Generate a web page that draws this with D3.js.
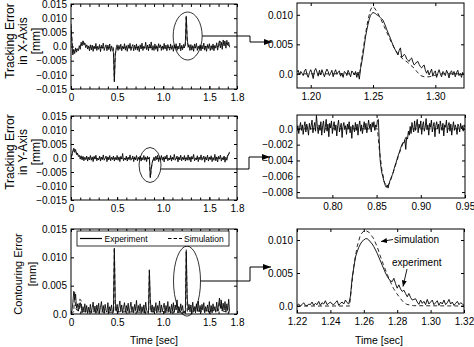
<!DOCTYPE html>
<html><head><meta charset="utf-8">
<script src="https://cdn.jsdelivr.net/npm/d3@7"></script>
<style>
body{margin:0;background:#fff;}
svg text{font-family:"Liberation Sans",Arial,Helvetica,sans-serif;fill:#000;}
</style></head><body>
<svg id="c" width="474" height="347"></svg>
<script>
// ===== DATA (errors in micrometres; converted to mm for the axes) =====
const UM = 0.001;
// full-run overview, sampled every 0.01 s starting at 0 s
const overviewDt = 0.01;
const trackXExp = [7,1.5,-3,-1,-2.5,-0.5,-2,-0.8,-1.5,0.3,
 -1,1.5,0.2,2,0.5,1.2,-0.4,0.6,-0.9,0.2,
 -1.5,0.6,-1.2,0.5,-1.7,0.2,-0.9,1.1,-1.4,0.1,
 -1,0.7,-1.8,0.4,-0.7,1.2,-1.4,-0.2,0.6,-1.5,
 0.5,-1.1,0.9,-1.7,0.2,-1.3,-2,-12.5,-3,-0.5,
 0.6,-1.4,0.4,-1,0.8,-1.5,0.1,-0.9,1,-1.3,
 0.3,-1.7,0.6,-0.7,1.1,-1.4,-0.1,0.7,-1.5,0.5,
 -1.1,0.9,-1.3,0.2,-1.8,0.6,-0.9,1.2,-1.4,0.1,
 -0.7,1.5,-1.1,0.5,-1.5,0.8,-0.6,1.6,-1.3,0.3,
 -1.4,0.9,-1,0.3,-1.7,1,-0.4,0.6,-1.4,0.2,
 -1.1,1.1,-0.9,0.5,-1.5,0.7,-0.3,-1.3,0.9,-1,
 0.3,-1.7,0.6,-0.7,1,-1.4,0.2,-0.9,1.2,-1.5,
 0.4,-1.1,0.7,-0.5,1.5,10.5,3,-0.3,0.6,-1.4,
 0.7,-1.3,0.3,-1.7,0.9,-0.6,1.1,-1.4,0.1,-1,
 0.6,-1.5,0.4,-0.9,1.2,-1.3,0.2,-1.7,0.7,-0.7,
 1,-1.4,0.3,-1.1,0.9,-1.5,0.4,-0.6,1.3,-1.3,
 0.8,2,-0.5,1.5,-1,2.3,0.2,1.8,-0.6,2.2,
 0.5,1.5,-0.3];
const trackYExp = [0.5,1,2.5,3.5,2,3,1.2,1.8,0.5,1,
 -0.4,0.8,-0.7,0.6,-1,0.3,-0.6,0.7,-1.1,0.2,
 -0.7,0.9,-0.8,0.4,-1.3,0.6,-0.4,1,-1,0,
 -0.7,0.7,-1.1,0.3,-0.6,1.1,-0.8,-0.1,0.7,-1.3,
 0.4,-0.7,0.9,-1,0.3,-0.6,0.7,-1.1,0.2,-0.7,
 0.9,-0.8,0.4,-1.3,0.6,-0.4,1.6,-1,0,-0.7,
 0.7,-1.1,0.3,-0.6,1.1,-0.8,-0.1,0.7,-1.3,0.4,
 -0.7,0.9,-1,0.3,-0.6,0.7,-1.1,0.2,-0.7,0.9,
 -0.8,0.4,-1.3,0.6,-0.4,0.3,-7,-4,-1.8,-0.6,
 0.3,-1,0.7,-0.6,1,-1.3,0.2,-0.7,0.9,-0.8,
 0.4,-1.4,0.6,-0.4,1.1,-1,0,-0.7,0.9,-1.1,
 0.3,-0.6,1.3,-0.8,-0.1,0.7,-1.4,0.4,-0.7,1,
 -1,0.3,-0.6,0.9,-1.1,0.2,-0.8,1.1,-0.8,0.4,
 -1.4,0.6,-0.4,1.3,-1,0,-0.7,0.8,-1.3,0.3,
 -0.6,1.1,-0.8,-0.1,0.7,-1.5,0.4,-0.7,1,-1.1,
 0.3,-0.6,0.8,-1.3,0.2,-0.8,1.3,-1,0.4,-1.4,
 0.6,-0.4,1,-1.1,0,-0.7,0.7,-1.5,0.3,-0.8,
 0.8,1.5,2.2];
const contourExp = [0,0.5,2,4,2.5,3.5,1,1.8,0.5,1.5,
 2,1.4,0.2,1.3,0.5,1.8,0.3,1.5,0.1,1.2,
 0.4,1.7,0.2,1.1,2.1,0.3,1.4,0.1,1.6,0.5,
 1.9,0.2,1.2,2.2,0.4,1.5,0.1,1.7,0.6,0.3,
 2,0.2,1.3,0.5,1.6,0.1,0.3,11.5,2,0.5,
 1.7,0.3,1.3,2.3,0.4,1.6,0.2,1.2,2,0.3,
 1.5,0.5,1.9,0.1,1.1,2.1,0.4,1.3,0.2,1.7,
 0.6,2.4,0.3,1.5,0.5,1.8,0.1,1.3,0.4,1.6,
 0.2,2.1,0.7,0.3,0.1,7.7,2.5,0.4,1.6,0.3,
 1.3,0.5,2,0.2,1.5,0.6,2.3,0.3,1.6,0.4,
 1.2,1.9,0.2,1.5,0.5,2.2,0.3,1.3,0.1,1.7,
 0.5,2,0.3,1.6,0.7,2.5,0.2,1.3,0.4,1.8,
 0.6,1.5,0.2,0.5,0.1,11,3,0.7,1.7,0.4,
 1.6,0.3,2.1,0.6,1.3,0.2,1.8,0.5,2.3,0.4,
 1.5,0.3,1.7,0.7,2,0.2,1.3,0.5,1.6,0.3,
 2.2,0.4,1.5,0.2,1.8,0.6,1.3,0.3,2.1,0.5,
 1.6,2.8,1,2.4,0.5,1.9,0.7,2.2,0.3,1.8,
 0.6,2.6,0.4];
const trackXSimT = [0,0.01,0.02,0.04,0.07,0.1,0.13,0.16,0.2,0.46,0.47,0.48,0.5,1.24,1.25,1.26,1.28,1.6,1.62,1.64,1.67,1.7,1.72];
const trackXSimV = [8,3,-2.5,-1.5,-0.8,0.2,1.8,0.6,-0.3,-0.4,-12,-2.5,-0.4,-0.3,11,1.5,-0.3,0,1.8,0.3,2,0.5,0.2];
const trackYSimT = [0,0.02,0.04,0.06,0.09,0.12,0.85,0.86,0.87,0.88,0.9,1.68,1.72];
const trackYSimV = [0,2.2,3.2,1.8,0.6,0,-0.2,-7,-4,-1.5,-0.2,0,1.8];
const contourSimT = [0,0.03,0.04,0.05,0.07,0.085,0.095,0.11,0.115,0.105,0.09,0.1,0.13,0.46,0.47,0.48,0.84,0.85,0.86,1.24,1.25,1.26,1.6,1.61,1.625,1.635,1.63,1.615,1.625,1.65,1.72];
const contourSimV = [0,0.4,3.8,1,0.6,1.6,2.6,2.4,1.5,0.8,1,1.8,0.4,0.3,11.8,0.4,0.3,7.8,0.4,0.3,11.4,0.5,0.6,2,2.5,1.8,1,1.2,1.7,0.5,0.3];

// zoomed views, sampled every 0.001 s
const zoomDt = 0.001;
const zoomXStart = 1.189;
const zoomXExp = [0.3,0.6,-0.2,0.4,0.1,-0.3,0.5,0.8,-0.1,-0.6,
 0.2,0.7,0.1,-0.8,0.5,0.9,0.3,-0.4,0.6,-0.2,
 0.7,0.1,-0.5,0.3,0.8,0.4,-0.3,0.1,0.6,-0.5,
 0.2,0.7,-0.1,0.3,0.5,-0.4,0.1,-0.6,0.4,0.2,
 -0.3,0.6,0.1,-0.5,0.5,0.2,-0.2,0.4,-0.6,0.3,
 -0.9,0.9,2,3.3,4.8,6.3,7.4,8.4,9.3,9.9,
 10.2,10.4,10.3,10.2,10,9.9,9.7,9.5,9.3,9.1,
 8.6,8.1,7.5,7,6.5,6,5.4,4.9,4.4,4,
 3.6,3.2,4,4.4,2.8,3,3.3,3.1,2.5,2.3,
 2.1,2.5,2.7,2,1.5,1.7,2,2.1,1.6,1.2,
 1,1.3,1.5,0.6,0.1,
 0.6,-0.2,0.3,0.8,-0.4,0.2,0.5,-0.6,0.1,0.7,
 0,-0.5,0.4,0.2,-0.3,0.6,0.1,-0.7,0.3,0.5,
 -0.2,0.4,-0.5,0.2,0.6,-0.3,0.1,-0.6,0.3];
const zoomXSimT = [1.189,1.2392,1.2402,1.242,1.244,1.246,1.248,1.2494,1.251,1.253,1.256,1.259,1.262,1.265,1.268,1.271,1.274,1.2774,1.28,1.2828,1.2855,1.2882,1.291,1.295,1.299,1.304,1.323];
const zoomXSimV = [0,0,1.5,4,6.8,9.2,10.8,11.4,11.2,10.6,9.4,8,6.6,5.2,4,3.1,2.5,2,1.5,1,0.3,-0.3,-0.5,-0.5,-0.3,0,0];

const zoomYStart = 0.760;
const zoomYExp = [-0.3,0.4,-0.6,0.2,0.8,-0.2,0.5,-0.7,0.3,0.9,
 -0.4,0.6,0.1,-0.8,0.7,-0.1,0.4,1.1,-0.5,0.2,
 0.8,-0.3,1.7,0.3,-0.6,0.5,-0.2,0.9,-0.8,0.4,
 1,-0.5,0.2,1.2,-0.3,0.6,-1,0.7,0.1,1,
 -0.6,0.3,0.9,-0.2,0.5,-0.9,0.4,1.1,-0.4,0.2,
 0.7,-1.1,0.3,0.8,-0.1,0.4,-0.7,0.6,0,0.9,
 -0.5,0.3,-1.2,0.5,0.2,-0.4,0.8,-0.2,0.6,-0.8,
 0.4,1,-0.3,0.5,-0.6,0.2,0.9,-0.1,0.7,-0.5,
 0.3,1.1,0.1,0.6,-0.4,0.8,0.2,0.9,-0.2,0.5,
 0.2,1.1,
 1.2,-1.5,-3.9,-4.9,-5.6,-6,-6.5,-6.9,-7.2,-7.4,
 -7.1,-7.5,-7,-6.6,-6.3,-6,-5.8,-5.4,-5,-4.6,
 -4.3,-3.9,-3.5,-3.2,-2.9,-2.5,-2.2,-1.9,-1.7,-1.8,
 -1.4,-2.6,-1.1,-1.3,-0.3,-0.8,
 0.3,-0.6,0.8,0.1,-0.4,1,-0.2,0.5,1.2,-0.5,
 0.6,0.1,1,-0.7,0.4,0.9,-0.3,0.2,1.3,-0.1,
 0.5,-0.8,0.7,0.2,1.1,-0.4,0.3,0.8,-1,0.4,
 0.9,0,0.6,-0.6,1,0.3,-0.2,0.7,-0.9,0.5,
 0.2,1.1,-0.5,0.4,0.8,-0.3,0.6,-0.8,0.2,0.9,
 -0.2,0.5,0.1,-0.7,0.6,0.3,-0.4,0.7,0,0.4,
 -0.3,0.5,0.2];
const zoomYSimT = [0.76,0.851,0.853,0.856,0.859,0.862,0.865,0.868,0.872,0.876,0.88,0.884,0.888,0.892,0.95];
const zoomYSimV = [0,0,-2.5,-5.2,-6.8,-7.3,-6.8,-5.8,-4.4,-3,-1.8,-0.9,-0.3,0,0];

const zoomCStart = 1.220;
const zoomCExp = [0.1,0.3,0,0.2,0.5,0.1,0,0.3,0.2,0.6,
 0.1,0.4,0.2,0.7,0.1,0.5,0.3,0.8,0.2,0.4,
 0.6,0.3,0.2,0.5,0.8,0.1,0.4,0.6,0.3,0.9,
 0.5,0.3,1.5,4.2,5.8,7.4,8.2,8.9,9.4,9.8,
 10,10.2,10.2,10,9.7,9.4,9,8.5,8,7.4,
 6.8,6.2,5.6,5,4.5,4.1,3.8,3.7,4.2,3.4,
 2.7,3.2,2.6,2.2,2.4,1.9,1.4,1.9,1.3,0.9,
 1,1.1,0.6,0.25,
 0.9,0.4,0.7,0.2,1,0.3,0.6,0.9,0.2,0.5,
 0.8,0.1,0.6,0.3,0.9,0.2,0.5,1,0.3,0.6,
 0.1,0.4,0.7,0.2,0.5,0.3,0.1];
const zoomCSimT = [1.22,1.2515,1.2525,1.254,1.256,1.258,1.2605,1.263,1.2657,1.268,1.2697,1.2717,1.2737,1.2757,1.2777,1.2797,1.2817,1.2837,1.2857,1.2897,1.32];
const zoomCSimV = [0,0,2.5,6,9,10.8,11.5,11.2,10.3,9,7.7,6.3,5,3.8,2.7,1.9,1.2,0.6,0.25,0.05,0];

// tick labels
const overviewXTicks = [0,0.5,1.0,1.5,1.8];
const trackYTicks = [-0.015,-0.010,-0.005,0,0.005,0.010,0.015];
const contourYTicks = [0,0.005,0.010,0.015];
const zoomXXTicks = [1.20,1.25,1.30];
const zoomXYTicks = [0,0.005,0.010];
const zoomYXTicks = [0.80,0.85,0.90,0.95];
const zoomYYTicks = [-0.008,-0.006,-0.004,-0.002,0];
const zoomCXTicks = [1.22,1.24,1.26,1.28,1.30,1.32];
const zoomCYTicks = [0,0.005,0.010];

// ===== DRAWING =====
const svg = d3.select("#c");
const defs = svg.append("defs");
defs.append("marker").attr("id","arr").attr("viewBox","0 0 8 6").attr("refX",8).attr("refY",3)
  .attr("markerWidth",8).attr("markerHeight",6).attr("markerUnits","userSpaceOnUse").attr("orient","auto")
  .append("path").attr("d","M0,0L8,3L0,6Z").attr("fill","#000");
defs.append("marker").attr("id","arrS").attr("viewBox","0 0 6 5").attr("refX",6).attr("refY",2.5)
  .attr("markerWidth",6).attr("markerHeight",5).attr("markerUnits","userSpaceOnUse").attr("orient","auto")
  .append("path").attr("d","M0,0L6,2.5L0,5Z").attr("fill","#000");

const fmtY = d => d === 0 ? "0.0" : d3.format(".3f")(d);
const fmtXo = d => d === 0 ? "0" : d3.format(".1f")(d);
const fmt2 = d3.format(".2f");
const seq = (start, dt, vals) => vals.map((v,i) => [start + i*dt, v]);
let clipId = 0;

function panel(c) {
  const x = d3.scaleLinear().domain(c.xd).range([c.x0, c.x1]);
  const y = d3.scaleLinear().domain(c.yd).range([c.y1, c.y0]);
  const g = svg.append("g");
  const id = "clip" + (clipId++);
  defs.append("clipPath").attr("id", id).append("rect")
    .attr("x", c.x0).attr("y", c.y0).attr("width", c.x1 - c.x0).attr("height", c.y1 - c.y0);
  const style = s => s.attr("font-size", c.fs || 10).call(q => q.select(".domain").remove());
  g.append("g").attr("transform", `translate(0,${c.y1})`)
    .call(d3.axisBottom(x).tickValues(c.xt).tickFormat(c.xf).tickSizeInner(-3).tickSizeOuter(0).tickPadding(5)).call(style);
  if (c.xm) {
    g.append("g").attr("transform", `translate(0,${c.y1})`)
      .call(d3.axisBottom(x).tickValues(c.xm).tickFormat("").tickSizeInner(-2.5).tickSizeOuter(0)).call(style);
  }
  g.append("g").attr("transform", `translate(0,${c.y0})`)
    .call(d3.axisTop(x).tickValues(c.xm || c.xt).tickFormat("").tickSizeInner(-3).tickSizeOuter(0)).call(style);
  g.append("g").attr("transform", `translate(${c.x0},0)`)
    .call(d3.axisLeft(y).tickValues(c.yt).tickFormat(fmtY).tickSizeInner(-3).tickSizeOuter(0).tickPadding(4)).call(style);
  g.append("g").attr("transform", `translate(${c.x1},0)`)
    .call(d3.axisRight(y).tickValues(c.yt).tickFormat("").tickSizeInner(-3).tickSizeOuter(0)).call(style);
  const line = d3.line().x(d => x(d[0])).y(d => y(d[1] * UM));
  const lg = g.append("g").attr("clip-path", `url(#${id})`);
  lg.append("path").datum(c.exp).attr("d", line).attr("fill", "none")
    .attr("stroke", "#000").attr("stroke-width", c.ew || 0.8).attr("stroke-linejoin", "round");
  lg.append("path").datum(c.sim).attr("d", line).attr("fill", "none")
    .attr("stroke", "#111").attr("stroke-width", c.sw || 0.9).attr("stroke-dasharray", c.dash || "4,2.5");
  g.append("rect").attr("x", c.x0).attr("y", c.y0).attr("width", c.x1 - c.x0).attr("height", c.y1 - c.y0)
    .attr("fill", "none").attr("stroke", "#000").attr("stroke-width", 1);
  return {x, y, g};
}

const minorO = d3.range(0, 19).map(i => i / 10);
const L0 = 71, L1 = 237, R0 = 297, R1 = 464;

const p1 = panel({x0:L0,x1:L1,y0:4,y1:89,xd:[0,1.8],yd:[-0.015,0.015],xt:overviewXTicks,xf:fmtXo,xm:minorO,yt:trackYTicks,
  exp: seq(0, overviewDt, trackXExp), sim: d3.zip(trackXSimT, trackXSimV), ew:0.85});
const p2 = panel({x0:L0,x1:L1,y0:116,y1:200,xd:[0,1.8],yd:[-0.015,0.015],xt:overviewXTicks,xf:fmtXo,xm:minorO,yt:trackYTicks,
  exp: seq(0, overviewDt, trackYExp), sim: d3.zip(trackYSimT, trackYSimV), ew:0.85});
const p3 = panel({x0:L0,x1:L1,y0:229,y1:314,xd:[0,1.8],yd:[0,0.015],xt:overviewXTicks,xf:fmtXo,xm:minorO,yt:contourYTicks,
  exp: seq(0, overviewDt, contourExp), sim: d3.zip(contourSimT, contourSimV), ew:0.85});
const r1 = panel({x0:R0,x1:R1,y0:3,y1:88,xd:[1.189,1.323],yd:[-0.0024,0.012],xt:zoomXXTicks,xf:fmt2,yt:zoomXYTicks,
  exp: seq(zoomXStart, zoomDt, zoomXExp), sim: d3.zip(zoomXSimT, zoomXSimV), ew:0.9, dash:"4,3"});
const r2 = panel({x0:R0,x1:R1+1,y0:115,y1:198,xd:[0.76,0.95],yd:[-0.00875,0.00175],xt:zoomYXTicks,xf:fmt2,yt:zoomYYTicks,
  exp: seq(zoomYStart, zoomDt, zoomYExp), sim: d3.zip(zoomYSimT, zoomYSimV), ew:0.9, dash:"4,3"});
const r3 = panel({x0:R0,x1:R1,y0:229,y1:313,xd:[1.22,1.32],yd:[-0.00106,0.01167],xt:zoomCXTicks,xf:fmt2,yt:zoomCYTicks,
  exp: seq(zoomCStart, zoomDt, zoomCExp), sim: d3.zip(zoomCSimT, zoomCSimV), ew:0.9, dash:"4,3"});

function ellipse(p, t, v, rx, ry) {
  p.g.append("ellipse").attr("cx", p.x(t)).attr("cy", p.y(v)).attr("rx", rx).attr("ry", ry)
    .attr("fill", "none").attr("stroke", "#000").attr("stroke-width", 0.8);
  return [p.x(t) + rx, p.y(v)];
}
const e1 = ellipse(p1, 1.265, 0.0037, 14.5, 24);
const e2 = ellipse(p2, 0.857, -0.0025, 11, 17.5);
const e3 = ellipse(p3, 1.258, 0.0058, 13.5, 35);

function connector(start, yStart, xBend, yEnd, xEnd) {
  svg.append("path").attr("d", `M${start[0]},${yStart}H${xBend}V${yEnd}H${xEnd}`)
    .attr("fill", "none").attr("stroke", "#000").attr("stroke-width", 1).attr("marker-end", "url(#arr)");
}
connector(e1, 36, 250, 42, 272);
connector(e2, 169, 249, 157, 270);
connector(e3, 281, 250, 267, 271);

function ytitle(lines, xs, cy, fs) {
  lines.forEach((s, i) => {
    svg.append("text").attr("transform", `translate(${xs[i]},${cy}) rotate(-90)`)
      .attr("text-anchor", "middle").attr("dy", "0.35em").attr("font-size", fs).text(s);
  });
}
ytitle(["Tracking Error", "in X-Axis", "[mm]"], [10, 23, 36], 41, 12);
ytitle(["Tracking Error", "in Y-Axis", "[mm]"], [10, 23, 36], 152, 12);
ytitle(["Contouring Error", "[mm]"], [18, 32], 274, 11);

svg.append("text").attr("x", 154).attr("y", 344).attr("text-anchor", "middle").attr("font-size", 10.5).text("Time [sec]");
svg.append("text").attr("x", 379).attr("y", 344).attr("text-anchor", "middle").attr("font-size", 10.5).text("Time [sec]");

const lgd = svg.append("g");
lgd.append("rect").attr("x", 77).attr("y", 231).attr("width", 152).attr("height", 15)
  .attr("fill", "#fff").attr("stroke", "#000").attr("stroke-width", 0.8);
lgd.append("line").attr("x1", 80).attr("x2", 102).attr("y1", 238.5).attr("y2", 238.5).attr("stroke", "#000").attr("stroke-width", 1.2);
lgd.append("text").attr("x", 104.5).attr("y", 241.5).attr("font-size", 8.5).text("Experiment");
lgd.append("line").attr("x1", 168).attr("x2", 182).attr("y1", 238.5).attr("y2", 238.5).attr("stroke", "#000").attr("stroke-width", 1.2).attr("stroke-dasharray", "3.5,2");
lgd.append("text").attr("x", 184).attr("y", 241.5).attr("font-size", 8.5).text("Simulation");

svg.append("text").attr("x", 394).attr("y", 243).attr("font-size", 10).text("simulation");
svg.append("line").attr("x1", 393).attr("y1", 239.5).attr("x2", 381).attr("y2", 241.5)
  .attr("stroke", "#000").attr("stroke-width", 0.9).attr("marker-end", "url(#arrS)");
svg.append("text").attr("x", 392).attr("y", 266).attr("font-size", 10).text("experiment");
svg.append("line").attr("x1", 407).attr("y1", 269).attr("x2", 403).attr("y2", 286.5)
  .attr("stroke", "#000").attr("stroke-width", 0.9).attr("marker-end", "url(#arrS)");
</script>
</body></html>
